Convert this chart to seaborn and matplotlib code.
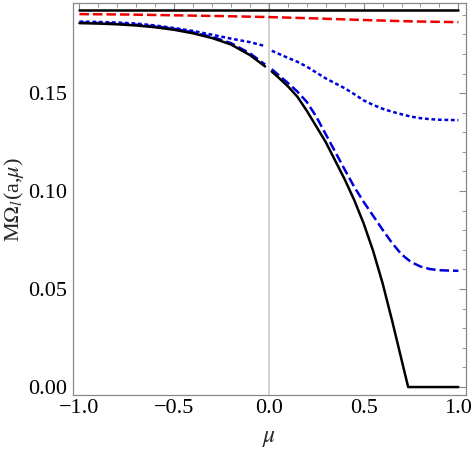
import numpy as np
import pandas as pd
import matplotlib
matplotlib.use("Agg")
import matplotlib.pyplot as plt
import seaborn as sns
from matplotlib.ticker import MultipleLocator

# ---- data ----
mu_top = [-1.0, 1.0]
val_top = [0.1925, 0.1925]

mu_red = [-1.0, -0.75, -0.5, -0.25, 0.0, 0.25, 0.5, 0.75, 1.0]
val_red = [0.1903, 0.1901, 0.1897, 0.1893, 0.1888, 0.1881, 0.1873, 0.1866, 0.1862]

mu_left = [-1.0, -0.9, -0.8, -0.7, -0.6, -0.5, -0.4, -0.3, -0.2, -0.1, -0.02]
black_left = [0.1857, 0.1855, 0.1851, 0.1845, 0.1836, 0.1823, 0.1805, 0.1781, 0.1748, 0.1694, 0.1636]
dashed_left = [0.1860, 0.1858, 0.1855, 0.1849, 0.1840, 0.1828, 0.1810, 0.1787, 0.1755, 0.1703, 0.1646]
dotted_left = [0.1865, 0.1863, 0.1860, 0.1855, 0.1845, 0.1832, 0.1817, 0.1798, 0.1778, 0.1760, 0.1740]

mu_black_right = [0.015, 0.05, 0.1, 0.15, 0.2, 0.25, 0.3, 0.35, 0.4, 0.45, 0.5,
                  0.55, 0.6, 0.65, 0.7, 0.735, 0.8, 0.9, 1.0]
black_right = [0.1610, 0.1580, 0.1535, 0.1482, 0.1410, 0.1330, 0.1250, 0.1155, 0.1060,
               0.0955, 0.0835, 0.0695, 0.0530, 0.0340, 0.0140, 0.0, 0.0, 0.0, 0.0]

mu_right = [0.015, 0.1, 0.15, 0.2, 0.25, 0.3, 0.35, 0.4, 0.45, 0.5, 0.55, 0.6,
            0.65, 0.7, 0.75, 0.8, 0.85, 0.9, 1.0]
dashed_right = [0.1622, 0.1552, 0.1508, 0.1455, 0.1380, 0.1290, 0.1200, 0.1110, 0.1022,
                0.0945, 0.0874, 0.0803, 0.0735, 0.0677, 0.0638, 0.0615, 0.0602, 0.0596, 0.0593]
dotted_right = [0.1716, 0.1680, 0.1660, 0.1635, 0.1605, 0.1575, 0.1550, 0.1525, 0.1495,
                0.1463, 0.1440, 0.1420, 0.1405, 0.1392, 0.1380, 0.1372, 0.1367, 0.1364, 0.1362]

x_ticks = [-1.0, -0.5, 0.0, 0.5, 1.0]
x_tick_labels = ["\u22121.0", "\u22120.5", "0.0", "0.5", "1.0"]
y_ticks = [0.00, 0.05, 0.10, 0.15]
y_tick_labels = ["0.00", "0.05", "0.10", "0.15"]

# ---- plotting ----
sns.set_theme(style="white")
plt.rcParams["font.family"] = ["Liberation Serif", "DejaVu Serif"]
plt.rcParams["mathtext.fontset"] = "stix"

fig = plt.figure(figsize=(4.74, 4.51), dpi=100)
ax = fig.add_axes([0.154, 0.124, 0.829, 0.869])

ax.axvline(0.0, color="#cccccc", lw=1.2, zorder=0)

def seg(x, y, color, ls, lw=1.8):
    df = pd.DataFrame({"mu": x, "val": y})
    sns.lineplot(data=df, x="mu", y="val", ax=ax, color=color, linestyle=ls,
                 linewidth=lw, estimator=None, sort=False)

dash = (0, (3.8, 1.6))
dot = (0, (1.5, 1.1))
seg(mu_top, val_top, "black", "-")
seg(mu_red, val_red, "#ee0000", dash)
seg(mu_left, dotted_left, "#0000dd", dot)
seg(mu_right, dotted_right, "#0000dd", dot)
seg(mu_left, dashed_left, "#0000dd", dash)
seg(mu_right, dashed_right, "#0000dd", dash)
seg(mu_left, black_left, "black", "-")
seg(mu_black_right, black_right, "black", "-")

ax.set_xlim(-1.034, 1.040)
ax.set_ylim(-0.0041, 0.1959)
ax.set_xticks(x_ticks)
ax.set_xticklabels(x_tick_labels)
ax.set_yticks(y_ticks)
ax.set_yticklabels(y_tick_labels)
ax.xaxis.set_minor_locator(MultipleLocator(0.1))
ax.yaxis.set_minor_locator(MultipleLocator(0.01))

ax.tick_params(which="both", direction="in", top=True, right=True, color="#888888",
               labelcolor="black", labelsize=16)
ax.tick_params(which="major", length=5, width=0.8)
ax.tick_params(which="minor", length=3, width=0.6)
ax.tick_params(axis="x", pad=3)
ax.tick_params(axis="y", pad=4)
for s in ax.spines.values():
    s.set_color("#888888")
    s.set_linewidth(0.9)

ax.set_xlabel(r"$\mu$", fontsize=17, labelpad=7)
ax.set_ylabel(r"M$\Omega_{\mathit{l}}$(a,$\mu$)", fontsize=16, labelpad=2)

fig.savefig("out.png", dpi=100)
